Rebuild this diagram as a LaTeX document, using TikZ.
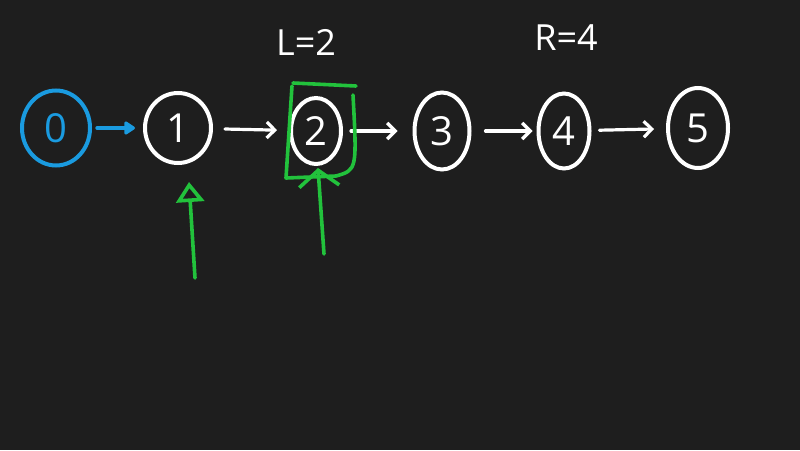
\documentclass[tikz,border=0pt]{standalone}
\usepackage{fontspec}
\setmainfont{Open Sans}
\usetikzlibrary{shapes.geometric,arrows.meta}
\definecolor{bg}{HTML}{1E1E1E}
\definecolor{pblue}{HTML}{1A9BE0}
\definecolor{pgreen}{HTML}{22C23C}
\tikzset{
  circ/.style={ellipse, draw=white, line width=4pt, inner sep=0pt, text=white,
    font=\fontsize{40}{40}\selectfont},
  arr/.style={draw=white, line width=3.2pt, line cap=round,
    -{Straight Barb[length=8pt,width=16pt,line width=3.2pt]}},
  barr/.style={draw=pblue, line width=3.4pt, line cap=round,
    -{Triangle[length=12pt,width=15pt,round]}},
  garr/.style={draw=pgreen, line width=3.6pt, line cap=round},
  lbl/.style={text=white, font=\fontsize{36}{36}\selectfont, inner sep=0pt},
}
\begin{document}
\begin{tikzpicture}[x=1pt,y=-1pt]
\useasboundingbox[fill=bg] (0,0) rectangle (800,450);
% nodes
\node[circ, draw=pblue, text=pblue, minimum width=68pt, minimum height=75pt] (n0) at (56,128) {0};
\node[circ, minimum width=66pt, minimum height=70pt] (n1) at (178,128) {1};
\node[circ, minimum width=50pt, minimum height=66pt] (n2) at (316,131) {2};
\node[circ, minimum width=55pt, minimum height=77pt] (n3) at (442,131) {3};
\node[circ, minimum width=51pt, minimum height=75pt] (n4) at (564,131) {4};
\node[circ, minimum width=60pt, minimum height=80pt] (n5) at (698,128) {5};
% labels
\node[lbl] (L) at (306,42) {L=2};
\node[lbl] (R) at (566,38) {R=4};
% arrows
\draw[barr, shorten <=5pt, shorten >=8pt] (n0) -- (n1);
\draw[arr, shorten <=12pt, shorten >=12pt] (n1) -- (n2);
\draw[arr, shorten <=8pt, shorten >=15pt] (n2) -- (n3);
\draw[arr, shorten <=14pt, shorten >=4pt] (n3) -- (n4);
\draw[arr, shorten <=8pt, shorten >=12pt] (n4) -- (n5);
% green box around node 2
\draw[garr, line join=round] (293,83) -- (356,86);
\draw[garr, line join=round] (292,86) -- (286,178) -- (336,176)
   .. controls (357,170) .. (353,95);
% green pointers
\coordinate (p1) at (195,278);
\coordinate (p2) at (324,254);
\coordinate (h1) at (189,182);
\coordinate (h2) at (318,168);
\draw[garr, -{Triangle[open,length=20pt,width=28pt,line width=3.6pt]}] (p1) -- (h1);
\draw[garr, -{Straight Barb[length=16pt,width=40pt,line width=3.6pt]}] (p2) -- (h2);
\end{tikzpicture}
\end{document}
